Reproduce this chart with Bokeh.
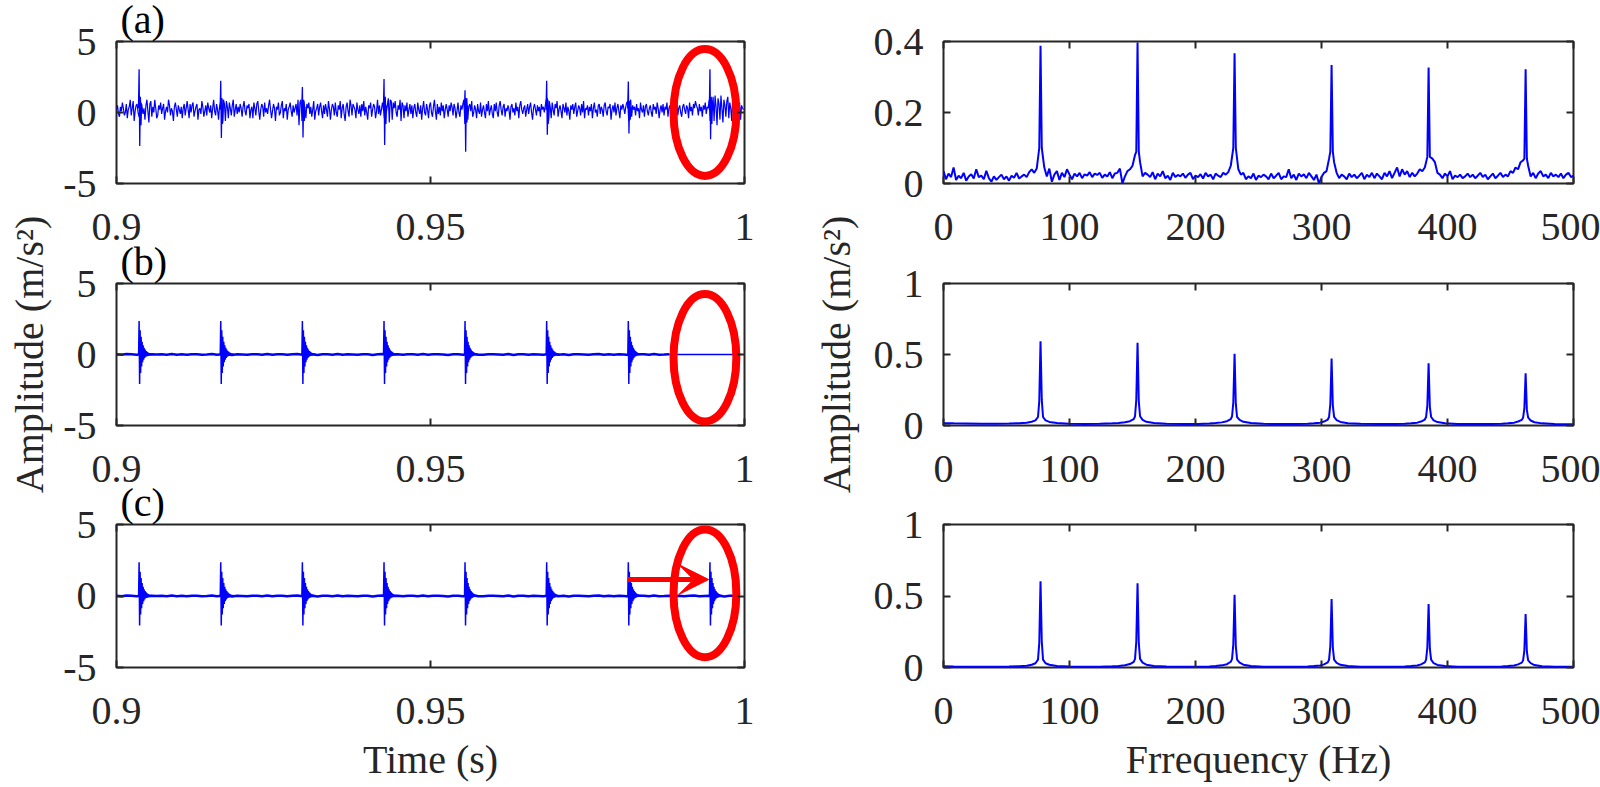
import numpy as np
from bokeh.plotting import figure
from bokeh.layouts import column, row
from bokeh.models import (LinearAxis, Arrow, VeeHead, Range1d, FixedTicker,
                          CustomJSTickFormatter)
from bokeh.embed import file_html
from bokeh.resources import INLINE

FONT = "Liberation Serif"
AX = "#262626"
BLUE = "#0000FF"
RED = "#FF0000"
FS = "40px"
PAGE_H = 787

# ---------------------------------------------------------------- data
# impulse instants (s) of the bearing fault, ~77 Hz spacing
impulse_times = [0.9036, 0.9166, 0.9296, 0.9426, 0.9555, 0.9685, 0.9815, 0.9945]

# (a) raw vibration: background noise sampled every step_a seconds from 0.9 s
step_a = 0.00015625
noise_a = [
    0.2, 0.5, -0.1, -0.3, 0.4, 0.1, 0.7, 0.3, -0.2, 0.0, 0.6, -0.4, 0.2, 0.4, 0.9, -0.2,
    0.3, 0.8, -0.6, 0.1, 0.5, 0.6, 0.0, -0.3, 0.2, 0.7, 0.4, -0.1, 0.3, -0.5, 0.5, 0.9,
    0.1, -0.7, 0.6, 0.8, -0.3, 0.4, 0.0, 0.9, 0.3, -0.4, -0.2, 0.5, 0.2, 0.7, -0.1, 0.3,
    0.6, -0.5, 0.1, 0.4, 0.0, 0.9, 0.5, -0.2, 0.3, 0.1, -0.6, 0.4, 0.7, 0.2, -0.3, 0.5,
    0.2, -0.1, 0.4, -0.4, 0.3, 0.6, -0.2, 0.3, 0.8, 0.2, -0.4, 0.6, 0.0, 0.5, 0.7, -0.3,
    0.1, 0.4, 0.6, -0.5, 0.2, 0.3, -0.1, 0.8, 0.4, -0.3, 0.1, 0.5, -0.2, 0.7, 0.3, 0.0,
    0.5, -0.4, 0.3, 0.9, 0.1, -0.2, 0.6, 0.2, -0.5, 0.4, 0.7, 1.0, -0.8, 0.9, 0.6, -0.6,
    0.8, 0.4, -0.4, 0.7, 0.3, -0.2, 0.5, 0.9, -0.3, 0.2, 0.6, -0.1, 0.4, 0.0, 0.6, 0.3,
    -0.3, 0.4, 0.8, 0.1, -0.2, 0.5, 0.3, 0.6, -0.4, 0.2, 0.4, -0.4, 0.7, 0.3, -0.2, 0.6,
    0.8, 0.1, -0.5, 0.2, 0.6, 0.4, -0.3, 0.7, 0.0, 0.3, -0.1, 0.5, 0.9, 0.2, -0.4, 0.1,
    0.6, 0.3, -0.6, 0.4, 0.2, 0.7, -0.2, 0.0, 0.5, 0.8, -0.4, 0.3, 0.1, 0.6, -0.5, 0.2,
    0.4, 0.7, 0.1, -0.3, 0.5, 0.0, 0.3, 0.6, -0.2, 0.9, -0.9, 0.7, 0.9, -0.6, 0.5, 0.8,
    0.2, -0.4, 0.6, 0.3, 0.7, -0.1, 0.4, -0.3, 0.2, 0.8, -0.5, 0.1, 0.3, 0.6, -0.2, 0.4,
    0.7, 0.1, -0.4, 0.5, -0.1, 0.6, 0.2, -0.3, 0.8, 0.3, -0.5, 0.2, 0.6, 0.4, -0.2, 0.7,
    0.0, -0.3, 0.5, 0.2, 0.8, -0.4, 0.3, 0.6, -0.1, -0.6, 0.4, 0.7, 0.1, -0.3, 0.9, 0.5,
    -0.2, 0.6, 0.4, 0.2, -0.4, 0.7, 0.2, -0.1, 0.5, -0.3, 0.6, 0.1, 0.8, -0.2, 0.4, 0.0,
    -0.5, 0.5, 0.3, 0.7, -0.3, 0.2, 0.6, 0.4, -0.4, 0.1, 0.9, -0.1, 0.5, -0.2, 0.2, 0.7,
    0.3, -0.4, 0.6, 0.0, 0.5, 1.0, -0.7, 0.9, 0.8, -0.5, 0.7, 0.3, 0.8, 0.0, -0.3, 0.5,
    0.2, 0.9, -0.6, 0.7, 0.5, -0.4, 0.5, 0.1, 0.7, -0.3, 0.2, 0.6, -0.1, 0.5, -0.4, 0.3,
    0.6, 0.0, -0.3, 0.7, 0.2, -0.1, 0.5, -0.5, 0.3, 0.8, 0.0, -0.2, 0.6, 0.2, -0.4, 0.5,
    0.7, 0.0, -0.3, 0.4, 0.9, 0.1, -0.5, 0.6, -0.1, 0.4, -0.2, 0.7, 0.1, 0.5, -0.4, 0.2,
    0.6, 0.2, -0.3, 0.5, 0.1, 0.7, 0.4, -0.2, 0.6, 0.3, -0.4, 0.1, 0.7, 0.0, -0.3, 0.5,
    0.2, 0.6, 0.9, -0.8, 0.7, 1.0, -0.5, 0.4, 0.6, 0.1, 0.8, -0.3, 0.0, 0.5, 0.2, -0.4,
    0.6, 0.1, -0.1, 0.7, -0.3, 0.2, 0.5, 0.0, -0.4, 0.6, 0.1, 0.8, -0.2, 0.2, 0.5, -0.1,
    -0.4, 0.6, 0.1, 0.7, 0.0, -0.3, 0.5, 0.8, 0.2, -0.2, 0.4, 0.6, -0.3, 0.3, 0.1, 0.5,
    0.2, -0.5, 0.4, 0.6, 0.0, 0.3, -0.2, 0.7, 0.1, 0.4, -0.4, 0.5, 0.8, 0.2, -0.1, 0.3,
    0.5, -0.3, 0.2, 0.6, -0.1, 0.4, 0.7, 0.0, -0.5, 0.3, 0.6, 0.2, -0.2, 0.5, 0.1, 0.4,
    -0.3, 0.6, 0.2, 0.4, 0.0, 0.5, 0.9, 1.0, -0.8, 0.8, 0.4, -0.4, 0.7, 0.2, -0.2, 0.6,
    0.3, 0.8, -0.3, 0.2, 0.5, 0.1, -0.4, 0.6, 0.3, 0.0, 0.7, -0.2, 0.4, 0.1, -0.5, 0.5,
    0.2, 0.6, -0.1, 0.4, 0.7, -0.3, 0.1, 0.5, 0.3, -0.2, 0.6, 0.0, 0.8, -0.4, 0.3, 0.2,
    0.5, -0.2, 0.4, 0.1, 0.6, -0.4, 0.3, 0.7, 0.0, 0.2, -0.3, 0.5, 0.6, -0.1, 0.4, 0.2,
    -0.3, 0.5, 0.7, 0.1, -0.2, 0.4, 0.3, 0.6, -0.5, 0.2, 0.5, 0.0, 0.7, -0.2, 0.3, 0.6,
    0.1, -0.4, 0.5, 0.2, 0.6, 0.3, -0.1, 0.4, 0.7, 0.8, -0.6, 0.6, 0.9, -0.3, 0.5, 0.2,
    0.4, -0.2, 0.6, 0.1, 0.3, -0.4, 0.7, 0.2, 0.0, 0.5, -0.3, 0.4, 0.6, 0.1, -0.2, 0.3,
    0.5, 0.0, -0.3, 0.6, 0.2, 0.4, -0.1, 0.7, 0.3, -0.4, 0.2, 0.5, 0.0, 0.6, -0.2, 0.4,
    0.2, 0.7, -0.3, 0.3, 0.5, -0.1, 0.1, 0.6, -0.4, 0.4, 0.2, 0.8, -0.2, 0.3, 0.5, 0.0,
    -0.3, 0.4, 0.6, 0.2, -0.1, 0.5, 0.3, -0.4, 0.7, 0.1, 0.4, -0.2, 0.6, 0.3, 0.8, 0.5,
    0.3, -0.2, 0.6, 0.1, 0.4, -0.3, 0.5, 0.2, 0.7, -0.1, 0.4, 0.3, 0.9, -0.6, 1.0, 0.4,
    1.1, -0.6, 1.2, 0.4, -0.9, 1.0, 0.6, -0.5, 1.2, 0.3, -0.7, 0.9, 0.5, -0.3, 0.8, 1.1,
    -0.4, 0.7, 0.3, -0.6, 1.0, 0.2, -1.0, 0.6, 0.9, -0.2, 0.4, 0.7, -0.5, 0.5, 0.3, 0.2,
]
# (a) impulses, samples every step_spike_a seconds starting just before each instant
step_spike_a = 0.0001
spikes_a = [
    [0.3, 3.05, -2.35, 1.1, -0.9, 0.6],
    [0.2, 2.23, -1.80, 1.0, -0.7, 0.5],
    [0.3, 1.80, -1.76, 0.9, -0.6, 0.4],
    [0.2, 2.35, -2.28, 1.1, -0.8, 0.5],
    [0.3, 1.57, -2.77, 1.0, -0.7, 0.5],
    [0.2, 2.23, -1.57, 0.9, -0.6, 0.4],
    [0.3, 2.18, -1.48, 0.8, -0.5, 0.4],
    [0.2, 3.05, -1.88, 1.1, -0.8, 0.5],
]

# (b)/(c) denoised signals: residual floor every step_bc seconds from 0.9 s
step_bc = 0.0008
floor_bc = [
    0.02, -0.02, 0.03, 0.01, -0.01, 0.02, -0.03, 0.01, 0.0, 0.02, -0.02, 0.03, -0.01, 0.01, -0.02, 0.01,
    0.02, -0.01, 0.0, 0.03, -0.02, 0.01, 0.02, -0.03, 0.02, 0.0, -0.02, 0.02, 0.01, -0.02, 0.03, -0.01,
    0.01, 0.02, -0.02, 0.01, 0.03, -0.01, 0.0, 0.02, -0.03, 0.02, 0.01, -0.01, 0.03, -0.02, 0.01, 0.0,
    -0.02, 0.02, 0.01, -0.03, 0.01, 0.03, -0.01, 0.0, 0.02, -0.02, 0.02, 0.01, -0.01, 0.03, -0.02, 0.01,
    0.02, 0.0, -0.03, 0.01, 0.02, -0.02, 0.01, 0.03, -0.01, -0.02, 0.01, 0.02, 0.0, -0.02, 0.03, -0.03,
    0.01, 0.02, -0.02, 0.01, 0.0, -0.02, 0.03, 0.01, -0.01, 0.02, -0.03, 0.01, 0.02, 0.0, -0.02, 0.01,
    0.03, -0.02, 0.01, -0.01, 0.02, 0.0, -0.03, 0.01, 0.01, 0.02, -0.02, 0.03, -0.01, 0.0, 0.02, -0.02,
    0.02, -0.02, 0.01, 0.03, -0.02, 0.0, 0.01, -0.01, 0.02, -0.03, 0.01, 0.02,
]
# one recovered impulse response, samples every step_impulse seconds
step_impulse = 0.00008
impulse_shape = [0.0, 2.36, -2.07, 1.7, -1.3, 1.25, -0.85, 0.9, -0.55, 0.65, -0.36, 0.47,
                 -0.24, 0.34, -0.16, 0.25, -0.11, 0.18, -0.08, 0.13, -0.06, 0.1, -0.04,
                 0.07, -0.03, 0.05, 0.0]
b_floor_end = 0.988      # (b) loses the signal after this instant
b_flat = [0.988, 0.9995]

# spectra
freq_a = list(range(0, 501, 2))
spec_a = [
    0.035, 0.012, 0.028, 0.018, 0.045, 0.010, 0.022, 0.015, 0.030, 0.008, 0.020, 0.026, 0.014, 0.040, 0.018, 0.022,
    0.012, 0.036, 0.015, 0.005, 0.020, 0.010, 0.018, 0.025, 0.012, 0.020, 0.008, 0.022, 0.016, 0.030, 0.014, 0.020,
    0.025, 0.018, 0.032, 0.040, 0.030, 0.042, 0.080, 0.090, 0.045, 0.020, 0.042, 0.005, 0.025, 0.035, 0.010, 0.030,
    0.018, 0.040, 0.025, 0.012, 0.028, 0.020, 0.030, 0.015, 0.026, 0.022, 0.032, 0.018, 0.028, 0.024, 0.030, 0.016,
    0.025, 0.020, 0.032, 0.015, 0.028, 0.030, 0.042, 0.000, 0.020, 0.035, 0.040, 0.050, 0.080, 0.100, 0.060, 0.020,
    0.030, 0.025, 0.018, 0.032, 0.012, 0.028, 0.020, 0.035, 0.015, 0.022, 0.010, 0.030, 0.018, 0.024, 0.020, 0.028,
    0.016, 0.025, 0.030, 0.012, 0.022, 0.018, 0.026, 0.014, 0.030, 0.020, 0.025, 0.012, 0.028, 0.022, 0.018, 0.030,
    0.025, 0.032, 0.050, 0.100, 0.090, 0.040, 0.025, 0.030, 0.012, 0.020, 0.015, 0.028, 0.010, 0.022, 0.018, 0.025,
    0.020, 0.012, 0.028, 0.015, 0.022, 0.030, 0.012, 0.020, 0.018, 0.040, 0.015, 0.025, 0.010, 0.028, 0.020, 0.026,
    0.015, 0.030, 0.020, 0.010, 0.025, 0.000, 0.018, 0.030, 0.035, 0.070, 0.100, 0.060, 0.030, 0.015, 0.025, 0.020,
    0.012, 0.028, 0.018, 0.025, 0.015, 0.022, 0.030, 0.012, 0.025, 0.018, 0.030, 0.015, 0.028, 0.020, 0.012, 0.030,
    0.020, 0.035, 0.015, 0.030, 0.045, 0.020, 0.040, 0.025, 0.035, 0.018, 0.030, 0.020, 0.028, 0.040, 0.035, 0.045,
    0.070, 0.065, 0.070, 0.060, 0.030, 0.025, 0.015, 0.028, 0.020, 0.035, 0.012, 0.022, 0.018, 0.025, 0.015, 0.020,
    0.028, 0.018, 0.025, 0.015, 0.022, 0.030, 0.018, 0.025, 0.012, 0.020, 0.028, 0.015, 0.022, 0.030, 0.018, 0.025,
    0.020, 0.035, 0.030, 0.045, 0.040, 0.060, 0.065, 0.090, 0.050, 0.020, 0.030, 0.015, 0.028, 0.035, 0.020, 0.025,
    0.015, 0.030, 0.020, 0.025, 0.018, 0.028, 0.015, 0.025, 0.030, 0.018, 0.022,
]
peak_freq = [77, 154, 231, 308, 385, 462]
peak_amp_a = [0.388, 0.397, 0.367, 0.334, 0.327, 0.322]
peak_base_a = [0.10, 0.09, 0.10, 0.09, 0.075, 0.07]

freq_b = [0, 8, 18, 30, 42, 52,
          60, 66, 70, 73, 75, 76, 77, 78, 79, 81, 84, 90, 100,
          112, 124, 134,
          139, 144, 148, 151, 152, 153, 154, 155, 156, 158, 161, 167, 177,
          190, 202, 211,
          216, 221, 225, 228, 229, 230, 231, 232, 233, 235, 238, 244, 254,
          267, 280, 289,
          294, 299, 302, 305, 306, 307, 308, 309, 310, 312, 315, 321, 331,
          345, 358, 366,
          371, 376, 379, 382, 383, 384, 385, 386, 387, 389, 392, 398, 408,
          422, 435, 443,
          448, 453, 456, 459, 460, 461, 462, 463, 464, 466, 469, 475, 485, 500]
spec_b = [0.016, 0.015, 0.014, 0.013, 0.013, 0.014,
          0.016, 0.020, 0.026, 0.036, 0.060, 0.170, 0.594, 0.180, 0.060, 0.036, 0.025, 0.017, 0.013,
          0.011, 0.012, 0.015,
          0.018, 0.023, 0.030, 0.045, 0.065, 0.180, 0.583, 0.170, 0.065, 0.040, 0.026, 0.018, 0.013,
          0.011, 0.011, 0.014,
          0.017, 0.022, 0.030, 0.045, 0.065, 0.160, 0.505, 0.150, 0.060, 0.040, 0.026, 0.017, 0.012,
          0.010, 0.011, 0.013,
          0.016, 0.020, 0.028, 0.042, 0.060, 0.150, 0.472, 0.140, 0.060, 0.038, 0.025, 0.016, 0.012,
          0.010, 0.011, 0.013,
          0.016, 0.020, 0.028, 0.042, 0.060, 0.140, 0.439, 0.130, 0.060, 0.036, 0.024, 0.016, 0.011,
          0.010, 0.011, 0.013,
          0.016, 0.020, 0.028, 0.040, 0.055, 0.120, 0.368, 0.110, 0.055, 0.035, 0.023, 0.015, 0.011, 0.009]
freq_c = freq_b
spec_c = [0.008, 0.007, 0.006, 0.006, 0.006, 0.007,
          0.009, 0.013, 0.019, 0.030, 0.055, 0.170, 0.603, 0.180, 0.055, 0.030, 0.019, 0.011, 0.007,
          0.005, 0.006, 0.008,
          0.011, 0.016, 0.024, 0.040, 0.060, 0.180, 0.589, 0.170, 0.060, 0.034, 0.020, 0.011, 0.007,
          0.005, 0.005, 0.007,
          0.010, 0.015, 0.023, 0.040, 0.060, 0.160, 0.509, 0.150, 0.055, 0.034, 0.020, 0.011, 0.006,
          0.005, 0.005, 0.007,
          0.010, 0.014, 0.022, 0.036, 0.055, 0.150, 0.479, 0.140, 0.055, 0.032, 0.019, 0.010, 0.006,
          0.005, 0.005, 0.007,
          0.010, 0.014, 0.022, 0.036, 0.055, 0.140, 0.444, 0.130, 0.055, 0.030, 0.018, 0.010, 0.006,
          0.005, 0.005, 0.007,
          0.010, 0.014, 0.022, 0.034, 0.050, 0.120, 0.374, 0.110, 0.050, 0.030, 0.017, 0.009, 0.006, 0.005]

# highlight ellipses (centre t, centre amplitude, width s, height) per time panel
mark_t = [0.9937, 0.9937, 0.9937]
mark_y = [0.0, -0.23, 0.18]
mark_w = [0.0100, 0.0100, 0.0100]
mark_h = [8.94, 8.99, 8.94]
# arrow in (c): recovered impulse one period after the previous one
arrow_t = [0.9814, 0.9943]
arrow_y = 1.15

time_ticks = [0.9, 0.95, 1.0]
amp_ticks = [-5, 0, 5]
freq_ticks = [0, 100, 200, 300, 400, 500]
spec_ticks_a = [0, 0.2, 0.4]
spec_ticks_bc = [0, 0.5, 1]
panel_tags = ["(a)", "(b)", "(c)"]
y_title = "Amplitude (m/s\u00b2)"

# ---------------------------------------------------------------- helpers
FMT = "return String(Math.round(tick * 1000) / 1000);"


def panel(width, height, left, right, top, bottom, xr, yr, xticks, yticks, margin_top):
    p = figure(width=width, height=height, x_range=Range1d(*xr), y_range=Range1d(*yr),
               output_backend="svg", toolbar_location=None,
               min_border_left=left, min_border_right=right,
               min_border_top=top, min_border_bottom=bottom,
               margin=(margin_top, 0, 0, 0))
    p.grid.visible = False
    p.outline_line_color = AX
    p.outline_line_width = 2
    p.outline_line_alpha = 1
    p.background_fill_color = "white"
    p.border_fill_color = None
    xa, ya = p.xaxis[0], p.yaxis[0]
    for ax, ticks in ((xa, xticks), (ya, yticks)):
        ax.ticker = FixedTicker(ticks=ticks)
        ax.formatter = CustomJSTickFormatter(code=FMT)
        ax.major_label_text_font = FONT
        ax.major_label_text_font_size = FS
        ax.major_label_text_color = AX
        ax.major_tick_in = 7
        ax.major_tick_out = 0
        ax.major_tick_line_color = AX
        ax.major_tick_line_width = 2
        ax.minor_tick_line_color = None
        ax.axis_line_color = None
        ax.axis_label_text_font = FONT
        ax.axis_label_text_font_size = FS
        ax.axis_label_text_font_style = "normal"
        ax.axis_label_text_color = AX
    xa.major_label_standoff = 30
    ya.major_label_standoff = 20
    for loc, ticks in (("above", xticks), ("right", yticks)):
        m = LinearAxis(ticker=FixedTicker(ticks=ticks), major_label_text_font_size="0px",
                       major_label_standoff=0, major_tick_in=7, major_tick_out=0,
                       major_tick_line_color=AX, major_tick_line_width=2,
                       minor_tick_line_color=None, axis_line_color=None)
        p.add_layout(m, loc)
    return p, xa, ya


def side_label(width, border_left, text):
    # a narrow strip whose only content is the vertical title, centred on y = 354 px
    p = figure(width=width, height=PAGE_H, x_range=Range1d(0, 1), y_range=Range1d(0, 1),
               output_backend="svg", toolbar_location=None, title=text, title_location="left",
               min_border_left=border_left, min_border_right=0, min_border_top=0,
               min_border_bottom=PAGE_H - 2 * 354,
               x_axis_location=None, y_axis_location=None)
    p.title.align = "center"
    p.title.text_font = FONT
    p.title.text_font_size = FS
    p.title.text_font_style = "normal"
    p.title.text_color = AX
    p.title.standoff = 0
    p.grid.visible = False
    p.outline_line_color = None
    p.background_fill_color = None
    p.border_fill_color = None
    return p


# (height, top border, bottom border, top margin) of each row of panels
rows_geom = [(266, 50, 74, -9), (266, 50, 74, -24), (315, 48, 124, -23)]

left_figs, right_figs, left_x, right_x = [], [], [], []
for i, (h, top, bottom, mt) in enumerate(rows_geom):
    lp, lxa, lya = panel(740, h, 55, 56, top, bottom, (0.9, 1.0), (-5, 5),
                         time_ticks, amp_ticks, mt)
    yr = (0, 0.4) if i == 0 else (0, 1)
    rp, rxa, rya = panel(730, h, 73, 27, top, bottom, (0, 500), yr, freq_ticks,
                         spec_ticks_a if i == 0 else spec_ticks_bc, mt)
    lp.title.text = panel_tags[i]
    lp.title.text_font = FONT
    lp.title.text_font_size = FS
    lp.title.text_font_style = "normal"
    lp.title.text_color = "black"
    lp.title.align = "left"
    lp.title.offset = 4
    lp.title.standoff = 0
    left_figs.append(lp)
    right_figs.append(rp)
    left_x.append(lxa)
    right_x.append(rxa)

# ---- (a) raw signal
pa = left_figs[0]
t_a = 0.9 + np.arange(len(noise_a)) * step_a
pa.line(t_a, noise_a, line_color=BLUE, line_width=1.2)
for t0, vals in zip(impulse_times, spikes_a):
    ts = t0 - step_spike_a + np.arange(len(vals)) * step_spike_a
    pa.line(ts, vals, line_color=BLUE, line_width=1.3)

# ---- (b) and (c) processed signals
t_bc = 0.9 + np.arange(len(floor_bc)) * step_bc
keep_b = t_bc <= b_floor_end
pb = left_figs[1]
pb.line(t_bc[keep_b], np.array(floor_bc)[keep_b], line_color=BLUE, line_width=2.5)
pb.line(b_flat, [0, 0], line_color=BLUE, line_width=1.5)
pc = left_figs[2]
pc.line(t_bc, floor_bc, line_color=BLUE, line_width=2.5)
for k, t0 in enumerate(impulse_times):
    ts = t0 - step_impulse + np.arange(len(impulse_shape)) * step_impulse
    if k < 7:
        pb.line(ts, impulse_shape, line_color=BLUE, line_width=1.5)
    pc.line(ts, impulse_shape, line_color=BLUE, line_width=1.5)

for p, cx, cy, w, hh in zip(left_figs, mark_t, mark_y, mark_w, mark_h):
    p.ellipse(x=[cx], y=[cy], width=[w], height=[hh], fill_color=None,
              line_color=RED, line_width=8)

pc.add_layout(Arrow(x_start=arrow_t[0], y_start=arrow_y, x_end=arrow_t[1], y_end=arrow_y,
                    line_color=RED, line_width=5,
                    end=VeeHead(size=30, fill_color=RED, line_color=RED, line_width=1)))

# ---- spectra: noisy spectrum with the fault harmonics merged in
pts = [(f, v) for f, v in zip(freq_a, spec_a) if all(abs(f - pf) > 1 for pf in peak_freq)]
for f, a, b in zip(peak_freq, peak_amp_a, peak_base_a):
    pts += [(f - 1, b), (f, a), (f + 1, b)]
pts.sort()
right_figs[0].line([q[0] for q in pts], [q[1] for q in pts], line_color=BLUE, line_width=2)
right_figs[1].line(freq_b, spec_b, line_color=BLUE, line_width=2)
right_figs[2].line(freq_c, spec_c, line_color=BLUE, line_width=2)

left_x[2].axis_label = "Time (s)"
left_x[2].axis_label_standoff = 10
right_x[2].axis_label = "Frrequency (Hz)"
right_x[2].axis_label_standoff = 10

layout = row(side_label(60, 51, y_title), column(*left_figs),
             side_label(70, 58, y_title), column(*right_figs))
open("out.html", "w").write(file_html(layout, INLINE))
